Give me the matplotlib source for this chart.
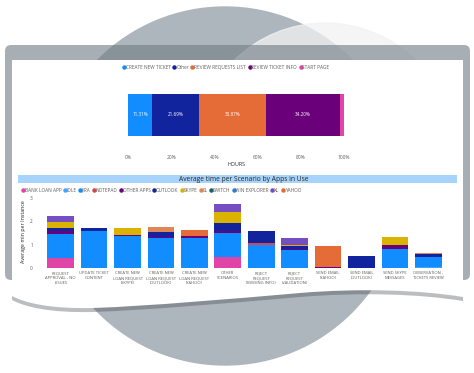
import matplotlib.pyplot as plt
import numpy as np
from matplotlib.patches import Circle, FancyBboxPatch, PathPatch, Rectangle
from matplotlib.path import Path
from matplotlib.lines import Line2D

plt.rcParams['font.family'] = ['Open Sans', 'DejaVu Sans']

# top chart: share of hours per page
pages = ['CREATE NEW TICKET', 'Other', 'REVIEW REQUESTS LIST', 'REVIEW TICKET INFO', 'START PAGE']
page_share = [11.31, 21.69, 30.87, 34.20, 1.93]
page_colors = ['#118dff', '#12239e', '#e66c37', '#6b007b', '#e044a7']

# bottom chart: average minutes per scenario, stacked by app
scenarios = ['REQUEST\nAPPROVAL - NO\nISSUES', 'UPDATE TICKET\nCONTENT', 'CREATE NEW\nLOAN REQUEST\n(SKYPE)',
             'CREATE NEW\nLOAN REQUEST\n(OUTLOOK)', 'CREATE NEW\nLOAN REQUEST\n(YAHOO)', 'OTHER\nSCENARIOS',
             'REJECT\nREQUEST\n(MISSING INFO)', 'REJECT\nREQUEST\n(VALIDATION)', 'SEND EMAIL\n(YAHOO)',
             'SEND EMAIL\n(OUTLOOK)', 'SEND SKYPE\nMESSAGES', 'OBSERVATION -\nTICKETS REVIEW']
apps = ['BANK LOAN APP', 'IDLE', 'JIRA', 'NOTEPAD', 'OTHER APPS', 'OUTLOOK', 'SKYPE', 'SL', 'SWITCH',
        'WIN EXPLORER', 'XL', 'YAHOO']
app_colors = ['#e044a7', '#41a4ff', '#118dff', '#d64550', '#6b007b', '#12239e', '#d9b300', '#e0875a',
              '#1f5f6e', '#2b7fd4', '#744ec2', '#e66c37']
bank_loan = [0.43, 0, 0, 0, 0, 0.46, 0, 0, 0, 0, 0, 0]
idle = [0, 0, 0, 0, 0, 0, 0, 0, 0, 0.02, 0, 0.05]
jira = [1.04, 1.57, 1.35, 1.30, 1.28, 1.05, 0.97, 0.76, 0, 0, 0.83, 0.40]
notepad = [0, 0, 0, 0, 0, 0, 0.10, 0.03, 0, 0, 0, 0]
other_apps = [0.10, 0, 0.07, 0.03, 0.10, 0.06, 0, 0.04, 0.04, 0, 0.14, 0]
outlook = [0.16, 0.13, 0, 0.23, 0, 0.37, 0.53, 0.10, 0, 0.51, 0, 0.14]
skype = [0.24, 0, 0.27, 0, 0, 0.47, 0, 0.07, 0, 0, 0.34, 0]
sl = [0, 0, 0, 0.20, 0, 0, 0, 0, 0, 0, 0, 0.03]
switch = [0] * 12
win_explorer = [0] * 12
xl = [0.27, 0, 0, 0, 0, 0.33, 0, 0.27, 0, 0, 0, 0]
yahoo = [0, 0, 0, 0, 0.24, 0, 0, 0, 0.90, 0, 0, 0]
app_values = [bank_loan, idle, jira, notepad, other_apps, outlook, skype, sl, switch, win_explorer, xl, yahoo]

W, H = 474, 373
fig = plt.figure(figsize=(W / 100, H / 100), dpi=100)

# background decoration in pixel coords
bg = fig.add_axes([0, 0, 1, 1])
bg.set_xlim(0, W)
bg.set_ylim(H, 0)
bg.axis('off')
bg.add_patch(Circle((225, 186), 179, color='#aeb6bd', zorder=1))
bg.add_patch(Circle((325, 152), 129, color='#f2f2f2', alpha=0.75, zorder=2))
bg.add_patch(FancyBboxPatch((5, 45), 465, 235, boxstyle='round,pad=0,rounding_size=6',
                            fc='#6f7a82', ec='none', alpha=0.6, zorder=3))

def card_path(dy):
    verts = [(12, 60 + dy), (463, 60 + dy), (463, 297 + dy),
             (420, 290 + dy), (360, 288 + dy), (300, 293 + dy),
             (230, 299 + dy), (150, 306 + dy), (93, 308 + dy),
             (50, 309 + dy), (25, 303 + dy), (12, 296 + dy),
             (12, 60 + dy)]
    codes = [Path.MOVETO, Path.LINETO, Path.LINETO,
             Path.CURVE4, Path.CURVE4, Path.CURVE4,
             Path.CURVE4, Path.CURVE4, Path.CURVE4,
             Path.CURVE4, Path.CURVE4, Path.CURVE4,
             Path.CLOSEPOLY]
    return Path(verts, codes)

bg.add_patch(PathPatch(card_path(4), fc='#3c4349', ec='none', alpha=0.35, zorder=4))
bg.add_patch(PathPatch(card_path(0), fc='white', ec='none', zorder=5))

# title strip of bottom chart
bg.add_patch(Rectangle((18, 175), 439, 8, fc='#a8d4fb', ec='none', zorder=6))
bg.text(244, 179.3, 'Average time per Scenario by Apps in Use', fontsize=4.8, color='#252423',
        ha='center', va='center', zorder=7)

txt = '#605e5c'

# top chart
ax1 = fig.add_axes([128 / W, 1 - 145 / H, 216 / W, 60 / H])
ax1.set_zorder(10)
ax1.patch.set_visible(False)
left = 0
for name, v, c in zip(pages, page_share, page_colors):
    ax1.barh(0, v, left=left, height=0.7, color=c)
    if v > 5:
        ax1.text(left + v / 2, 0, f'{v:.2f}%', color='white', fontsize=3.3, ha='center', va='center')
    left += v
ax1.set_xlim(0, 100)
ax1.set_ylim(-0.5, 0.5)
ax1.set_yticks([])
ax1.set_xticks(range(0, 101, 20))
ax1.set_xticklabels([f'{t}%' for t in range(0, 101, 20)], fontsize=3.5, color=txt)
ax1.tick_params(axis='x', length=0, pad=7.5)
ax1.set_xlabel('HOURS', fontsize=3.8, color='#252423', labelpad=1.5)
for s in ax1.spines.values():
    s.set_visible(False)

h1 = [Line2D([], [], marker='o', ls='', color=c, markersize=2.2) for c in page_colors]
fig.legend(h1, pages, loc='center', bbox_to_anchor=(226 / W, 1 - 67.5 / H), ncol=5, frameon=False,
           fontsize=3.4, labelcolor=txt, handlelength=0.6, handletextpad=0.1, columnspacing=0.45,
           borderpad=0)

# bottom chart
ax2 = fig.add_axes([44 / W, 1 - 268 / H, 401 / W, 73 / H])
ax2.set_zorder(10)
ax2.patch.set_visible(False)
x = np.arange(len(scenarios))
bottom = np.zeros(len(scenarios))
for name, vals, c in zip(apps, app_values, app_colors):
    ax2.bar(x, vals, bottom=bottom, width=0.8, color=c)
    bottom += np.array(vals)
ax2.set_xlim(-0.5, len(scenarios) - 0.5)
ax2.set_ylim(0, 3.12)
ax2.set_yticks([0, 1, 2, 3])
ax2.set_yticklabels(['0', '1', '2', '3'], fontsize=3.4, color=txt)
ax2.set_xticks(x)
ax2.set_xticklabels(scenarios, fontsize=2.95, color=txt, linespacing=1.3)
ax2.tick_params(axis='both', length=0)
ax2.tick_params(axis='y', pad=8)
ax2.tick_params(axis='x', pad=2.5)
ax2.set_ylabel('Average min per Instance', fontsize=3.8, color='#252423', labelpad=3)
for s in ax2.spines.values():
    s.set_visible(False)

h2 = [Line2D([], [], marker='o', ls='', color=c, markersize=2.2) for c in app_colors]
fig.legend(h2, apps, loc='center left', bbox_to_anchor=(19 / W, 1 - 190 / H), ncol=12, frameon=False,
           fontsize=3.4, labelcolor=txt, handlelength=0.6, handletextpad=0.1, columnspacing=0.4,
           borderpad=0)

fig.savefig('out.png', dpi=100)
